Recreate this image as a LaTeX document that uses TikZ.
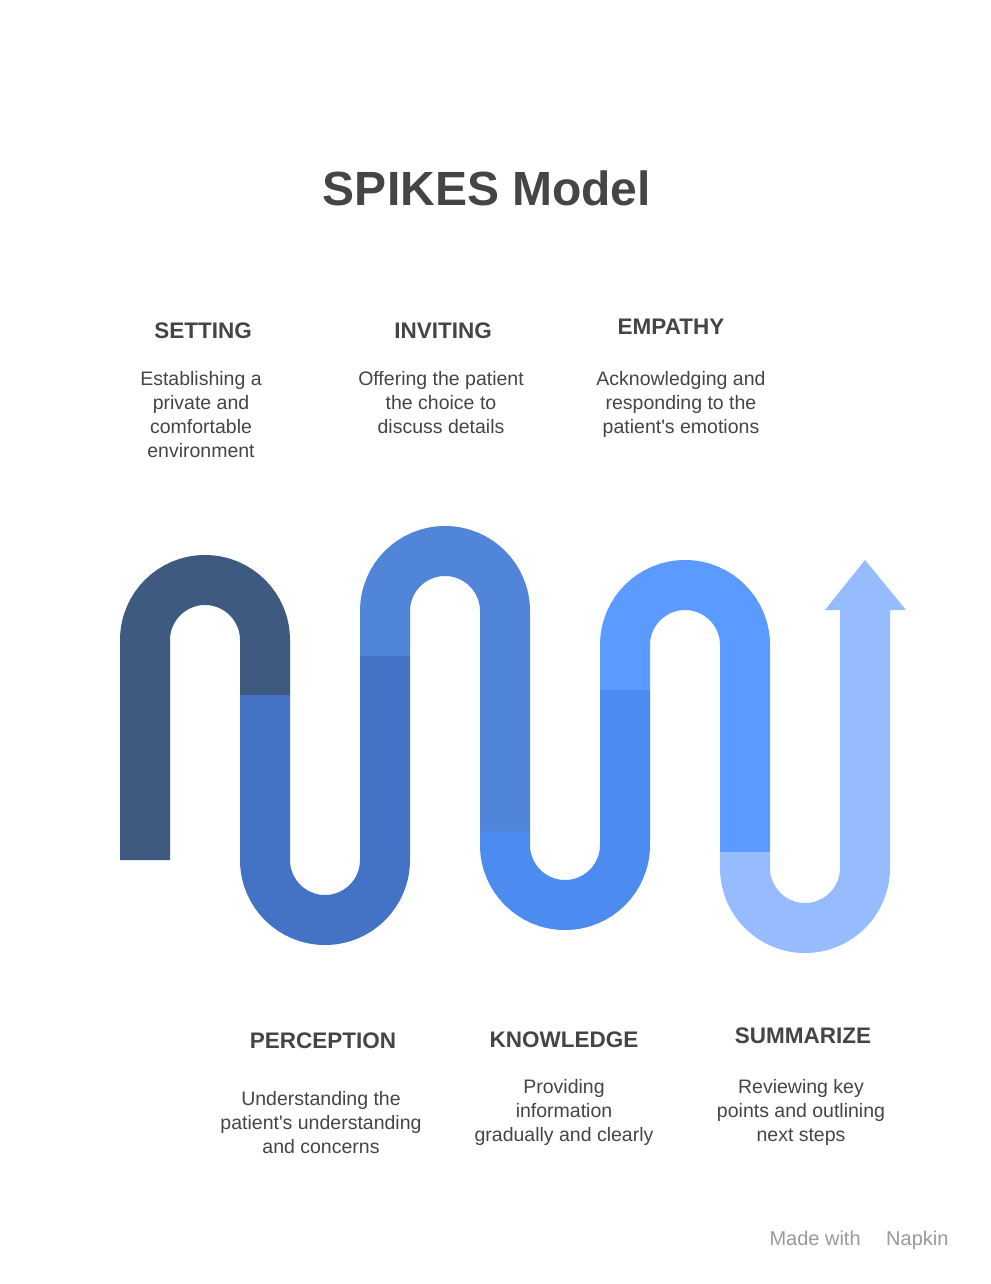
\documentclass[tikz,border=0pt]{standalone}
\usepackage{fontspec}
\setmainfont{Liberation Sans}
\begin{document}
\begin{tikzpicture}[x=1pt,y=-1pt,
  band/.style={line width=50pt,line cap=butt,line join=miter},
  head/.style={font=\bfseries\fontsize{22.5}{26}\selectfont,text=black!73},
  body/.style={font=\fontsize{19.5}{24}\selectfont,text=black!73,align=center,anchor=north}]
\definecolor{c1}{HTML}{3E5A80}\definecolor{c2}{HTML}{4472C4}\definecolor{c3}{HTML}{5085DA}
\definecolor{c4}{HTML}{4C8BEF}\definecolor{c5}{HTML}{5B9BFF}\definecolor{c6}{HTML}{96BBFF}
\useasboundingbox (0,0) rectangle (990,1284);
\fill[white] (0,0) rectangle (990,1284);
\node[font=\bfseries\fontsize{48}{52}\selectfont,text=black!73] (title) at (487,188) {SPIKES Model};
% band
\draw[band,c1] (145,860) -- (145,640) arc[start angle=180,end angle=360,radius=60] -- (265,696);
\draw[band,c2] (265,695) -- (265,860) arc[start angle=180,end angle=0,radius=60] -- (385,655);
\draw[band,c3] (385,656) -- (385,611) arc[start angle=180,end angle=360,radius=60] -- (505,832);
\draw[band,c4] (505,831) -- (505,845) arc[start angle=180,end angle=0,radius=60] -- (625,689);
\draw[band,c5] (625,690) -- (625,645) arc[start angle=180,end angle=360,radius=60] -- (745,853);
\draw[band,c6] (745,852) -- (745,868) arc[start angle=180,end angle=0,radius=60] -- (865,609);
\fill[c6] (825,610) -- (865,560) -- (906,610) -- cycle;
% labels
\node[head] (h1) at (203,331) {SETTING};
\node[body] (b1) at (201,368) {Establishing a\\private and\\comfortable\\environment};
\node[head] (h2) at (443,331) {INVITING};
\node[body] (b2) at (441,368) {Offering the patient\\the choice to\\discuss details};
\node[head] (h3) at (671,327) {EMPATHY};
\node[body] (b3) at (681,368) {Acknowledging and\\responding to the\\patient\textquotesingle s emotions};
\node[head] (h4) at (323,1041) {PERCEPTION};
\node[body] (b4) at (321,1088) {Understanding the\\patient\textquotesingle s understanding\\and concerns};
\node[head] (h5) at (564,1040) {KNOWLEDGE};
\node[body] (b5) at (564,1076) {Providing\\information\\gradually and clearly};
\node[head] (h6) at (803,1036) {SUMMARIZE};
\node[body] (b6) at (801,1076) {Reviewing key\\points and outlining\\next steps};
\node[font=\fontsize{20}{24}\selectfont,text=black!40,anchor=east] (ft) at (952,1240) {Made with \quad Napkin};
\end{tikzpicture}
\end{document}
